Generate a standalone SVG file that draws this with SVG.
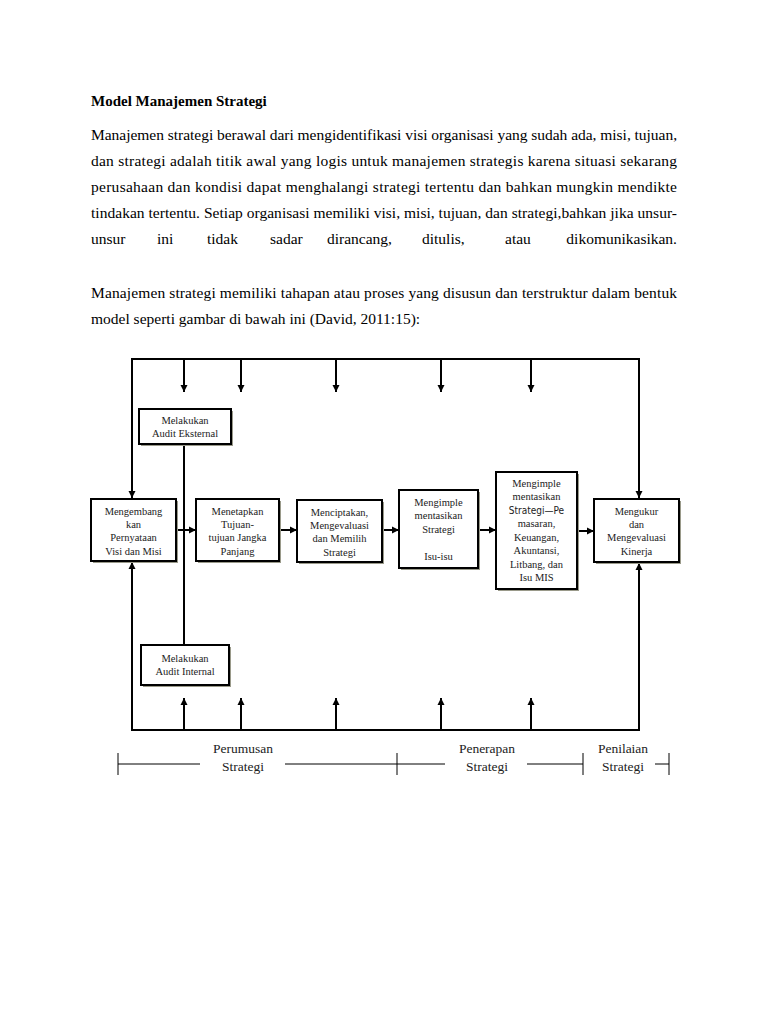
<svg xmlns="http://www.w3.org/2000/svg" width="768" height="1024" viewBox="0 0 768 1024">
<style>
.body{font-family:"Liberation Serif","Times New Roman",serif;font-size:15.5px;fill:#000}
.title{font-family:"Liberation Serif","Times New Roman",serif;font-size:15px;font-weight:bold;fill:#000}
.bx{fill:#fff;stroke:#000;stroke-width:2}
.sh{fill:#9a9a8a}
.bt{font-family:"Liberation Serif","Times New Roman",serif;font-size:10.5px;fill:#222;text-anchor:middle}
.st{font-family:"Liberation Serif","Times New Roman",serif;font-size:13.5px;fill:#222;text-anchor:middle}
.ln{stroke:#000;stroke-width:2;fill:none}
.tk{stroke:#000;stroke-width:1;fill:none}
</style>
<defs>
<marker id="ah" markerWidth="8" markerHeight="8" refX="7" refY="4" orient="auto" markerUnits="userSpaceOnUse">
<path d="M0,0.5 L7,4 L0,7.5 Z" fill="#000"/>
</marker>
<clipPath id="c1"><rect x="91" y="499" width="85" height="61"/></clipPath>
<clipPath id="c2"><rect x="196" y="499" width="83" height="61"/></clipPath>
<clipPath id="c3"><rect x="297" y="500" width="85" height="61"/></clipPath>
<clipPath id="c6"><rect x="594" y="499" width="85" height="62"/></clipPath>
</defs>

<g id="text">
<text class="title" x="91" y="106">Model Manajemen Strategi</text>
<text class="body" x="91" y="140" textLength="586" lengthAdjust="spacing">Manajemen strategi berawal dari mengidentifikasi visi organisasi yang sudah ada, misi, tujuan,</text>
<text class="body" x="91" y="166" textLength="586" lengthAdjust="spacing">dan strategi adalah titik awal yang logis untuk manajemen strategis karena situasi sekarang</text>
<text class="body" x="91" y="192" textLength="586" lengthAdjust="spacing">perusahaan dan kondisi dapat menghalangi strategi tertentu dan bahkan mungkin mendikte</text>
<text class="body" x="91" y="218" textLength="586" lengthAdjust="spacing">tindakan tertentu. Setiap organisasi memiliki visi, misi, tujuan, dan strategi,bahkan jika unsur-</text>
<text class="body" y="244"><tspan x="91">unsur</tspan><tspan x="157">ini</tspan><tspan x="207">tidak</tspan><tspan x="270">sadar</tspan><tspan x="327">dirancang,</tspan><tspan x="422">ditulis,</tspan><tspan x="505">atau</tspan></text>
<text class="body" x="677" y="244" text-anchor="end">dikomunikasikan.</text>
<text class="body" x="91" y="298" textLength="586" lengthAdjust="spacing">Manajemen strategi memiliki tahapan atau proses yang disusun dan terstruktur dalam bentuk</text>
<text class="body" x="91" y="324">model seperti gambar di bawah ini (David, 2011:15):</text>
</g>

<g id="connectors">
<path class="ln" d="M132,359 H639"/>
<path class="ln" d="M132,358 V498" marker-end="url(#ah)"/>
<path class="ln" d="M639,358 V498" marker-end="url(#ah)"/>
<path class="ln" d="M184,359 V392" marker-end="url(#ah)"/>
<path class="ln" d="M241,359 V392" marker-end="url(#ah)"/>
<path class="ln" d="M336,359 V392" marker-end="url(#ah)"/>
<path class="ln" d="M441,359 V392" marker-end="url(#ah)"/>
<path class="ln" d="M531,359 V392" marker-end="url(#ah)"/>
<path class="ln" d="M132,730 H639"/>
<path class="ln" d="M132,731 V562" marker-end="url(#ah)"/>
<path class="ln" d="M639,731 V563" marker-end="url(#ah)"/>
<path class="ln" d="M184,730 V698" marker-end="url(#ah)"/>
<path class="ln" d="M241,730 V698" marker-end="url(#ah)"/>
<path class="ln" d="M336,730 V698" marker-end="url(#ah)"/>
<path class="ln" d="M441,730 V698" marker-end="url(#ah)"/>
<path class="ln" d="M531,730 V698" marker-end="url(#ah)"/>
<path class="ln" d="M184,445 V645"/>
<path class="ln" d="M176,530 H196" marker-end="url(#ah)"/>
<path class="ln" d="M279,530 H297" marker-end="url(#ah)"/>
<path class="ln" d="M382,530 H399" marker-end="url(#ah)"/>
<path class="ln" d="M478,530 H496" marker-end="url(#ah)"/>
<path class="ln" d="M577,531 H594" marker-end="url(#ah)"/>
</g>

<g id="audit-eksternal">
<rect class="sh" x="141" y="411" width="92" height="35"/>
<rect class="bx" x="139" y="409" width="92" height="35" stroke-width="1.5"/>
<text class="bt" x="185" y="424">Melakukan</text>
<text class="bt" x="185" y="437">Audit Eksternal</text>
</g>

<g id="audit-internal">
<rect class="sh" x="143" y="647" width="88" height="40"/>
<rect class="bx" x="141" y="645" width="88" height="40" stroke-width="1.5"/>
<text class="bt" x="185" y="662">Melakukan</text>
<text class="bt" x="185" y="675">Audit Internal</text>
</g>

<g id="visi-misi">
<rect class="sh" x="93" y="501" width="85" height="62"/>
<rect class="bx" x="91" y="499" width="85" height="62"/>
<g clip-path="url(#c1)">
<text class="bt" x="133.5" y="515">Mengembang</text>
<text class="bt" x="133.5" y="528">kan</text>
<text class="bt" x="133.5" y="541">Pernyataan</text>
<text class="bt" x="133.5" y="555">Visi dan Misi</text>
</g>
</g>

<g id="tujuan">
<rect class="sh" x="198" y="501" width="83" height="62"/>
<rect class="bx" x="196" y="499" width="83" height="62"/>
<g clip-path="url(#c2)">
<text class="bt" x="237.5" y="515">Menetapkan</text>
<text class="bt" x="237.5" y="528">Tujuan-</text>
<text class="bt" x="237.5" y="541">tujuan Jangka</text>
<text class="bt" x="237.5" y="555">Panjang</text>
</g>
</g>

<g id="strategi">
<rect class="sh" x="299" y="502" width="85" height="62"/>
<rect class="bx" x="297" y="500" width="85" height="62"/>
<g clip-path="url(#c3)">
<text class="bt" x="339.5" y="516">Menciptakan,</text>
<text class="bt" x="339.5" y="529">Mengevaluasi</text>
<text class="bt" x="339.5" y="542">dan Memilih</text>
<text class="bt" x="339.5" y="556">Strategi</text>
</g>
</g>

<g id="implementasi">
<rect class="sh" x="401" y="492" width="79" height="78"/>
<rect class="bx" x="399" y="490" width="79" height="78"/>
<text class="bt" x="438.5" y="506">Mengimple</text>
<text class="bt" x="438.5" y="519">mentasikan</text>
<text class="bt" x="438.5" y="533">Strategi</text>
<text class="bt" x="438.5" y="560">Isu-isu</text>
</g>

<g id="implementasi-fungsional">
<rect class="sh" x="498" y="474" width="81" height="117"/>
<rect class="bx" x="496" y="472" width="81" height="117"/>
<text class="bt" x="536.5" y="487">Mengimple</text>
<text class="bt" x="536.5" y="500">mentasikan</text>
<text class="bt" x="536.5" y="514" style="font-family:'DejaVu Sans Condensed','DejaVu Sans',sans-serif;font-size:10px">Strategi—Pe</text>
<text class="bt" x="536.5" y="527">masaran,</text>
<text class="bt" x="536.5" y="541">Keuangan,</text>
<text class="bt" x="536.5" y="554">Akuntansi,</text>
<text class="bt" x="536.5" y="568">Litbang, dan</text>
<text class="bt" x="536.5" y="581">Isu MIS</text>
</g>

<g id="kinerja">
<rect class="sh" x="596" y="501" width="85" height="63"/>
<rect class="bx" x="594" y="499" width="85" height="63"/>
<g clip-path="url(#c6)">
<text class="bt" x="636.5" y="515">Mengukur</text>
<text class="bt" x="636.5" y="528">dan</text>
<text class="bt" x="636.5" y="541">Mengevaluasi</text>
<text class="bt" x="636.5" y="555">Kinerja</text>
</g>
</g>

<g id="tahapan">
<path class="tk" d="M118,753 V775 M118,764 H200 M285,764 H397 M397,753 V775 M397,764 H445 M527,764 H583 M583,753 V775 M655,764 H669 M669,753 V775"/>
<text class="st" x="243" y="753">Perumusan</text>
<text class="st" x="243" y="771">Strategi</text>
<text class="st" x="487" y="753">Penerapan</text>
<text class="st" x="487" y="771">Strategi</text>
<text class="st" x="623" y="753">Penilaian</text>
<text class="st" x="623" y="771">Strategi</text>
</g>
</svg>
